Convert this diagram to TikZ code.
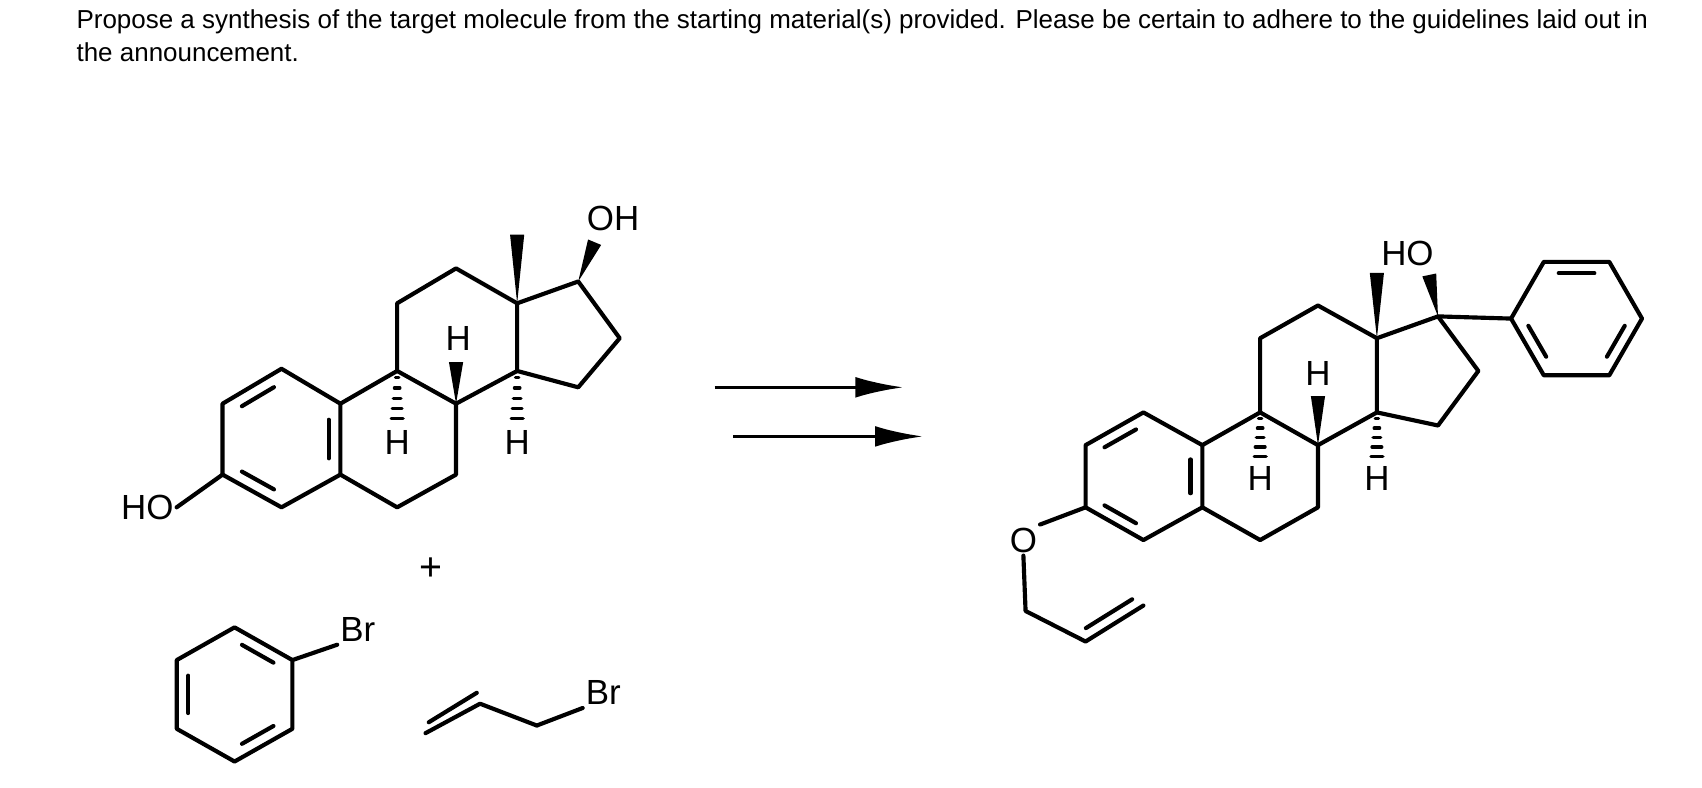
\documentclass[tikz,border=0pt]{standalone}
\usepackage{fontspec}
\setmainfont{Liberation Sans}
\usetikzlibrary{calc,arrows.meta}
\newcommand{\dbl}[3]{\draw ($(#1)!0.16!(#2)!0.2!(#3)$) -- ($(#2)!0.16!(#1)!0.2!(#3)$);}
\newcommand{\wdg}[2]{\fill (#1) -- ($(#2)!6.5pt!90:(#1)$) -- ($(#2)!6.5pt!-90:(#1)$) -- cycle;}
\newcommand{\hashb}[2]{\foreach \t/\w in {0.12/1.5,0.3/2.5,0.48/3.5,0.66/4.5,0.84/5.5}{\draw[line width=3pt] ($($(#1)!\t!(#2)$)!\w pt!90:(#2)$) -- ($($(#1)!\t!(#2)$)!\w pt!-90:(#2)$);}}
\tikzset{bd/.style={line width=3.8pt,line cap=round,line join=round},
 atom/.style={font=\fontsize{32}{32}\selectfont,inner sep=1pt},
 txt/.style={font=\fontsize{23.8}{28}\selectfont,anchor=west,inner sep=0pt}}
\begin{document}
\begin{tikzpicture}[x=1pt,y=-1pt]
\useasboundingbox[fill=white] (0,0) rectangle (1560,722);
\node[txt] (t1) at (70,20) {Propose a synthesis of the target molecule from the starting material(s) provided. Please be certain to adhere to the guidelines laid out in};
\node[txt] (t2) at (70,48) {the announcement.};
% starting steroid
\begin{scope}[bd]
\coordinate (A1) at (258,338); \coordinate (A2) at (204,370); \coordinate (A3) at (204,435);
\coordinate (A4) at (258,465); \coordinate (A5) at (312,435); \coordinate (A10) at (312,370);
\coordinate (Ac) at (258,402);
\coordinate (B9) at (364,340); \coordinate (B11) at (364,278); \coordinate (B12) at (418,246);
\coordinate (B13) at (474,278); \coordinate (B8) at (418,370); \coordinate (B14) at (474,340);
\coordinate (B7) at (418,435); \coordinate (B6) at (364,465);
\coordinate (B17) at (530,258); \coordinate (B16) at (568,310); \coordinate (B15) at (530,355);
\draw (A1)--(A2)--(A3)--(A4)--(A5)--(A10)--cycle;
\dbl{A1}{A2}{Ac} \dbl{A3}{A4}{Ac} \dbl{A5}{A10}{Ac}
\draw (A10)--(B9)--(B8)--(B7)--(B6)--(A5);
\draw (B9)--(B11)--(B12)--(B13)--(B14)--(B8);
\draw (B13)--(B17)--(B16)--(B15)--(B14);
\coordinate (Me1) at (474,215); \wdg{B13}{Me1}
\coordinate (OHw) at (545,222); \wdg{B17}{OHw}
\node[atom] (OH1) at (562,200) {OH};
\coordinate (H8e) at (418,332); \wdg{B8}{H8e}
\node[atom] (H8) at (420,310) {H};
\coordinate (H9e) at (364,392); \hashb{B9}{H9e}
\node[atom] (H9) at (364,406) {H};
\coordinate (H14e) at (474,392); \hashb{B14}{H14e}
\node[atom] (H14) at (474,406) {H};
\node[atom] (HO1) at (135,465) {HO};
\draw (A3)--(HO1.east);
\end{scope}
\node[atom,font=\fontsize{36}{36}\selectfont] (plus) at (395,522) {+};
% bromobenzene
\begin{scope}[bd]
\coordinate (P1) at (215,575); \coordinate (P2) at (268,605); \coordinate (P3) at (268,668);
\coordinate (P4) at (215,698); \coordinate (P5) at (162,668); \coordinate (P6) at (162,605);
\coordinate (Pc) at (215,636);
\draw (P1)--(P2)--(P3)--(P4)--(P5)--(P6)--cycle;
\dbl{P5}{P6}{Pc} \dbl{P1}{P2}{Pc} \dbl{P3}{P4}{Pc}
\node[atom] (Br1) at (328,577) {Br};
\draw (P2)--(Br1.south west);
% allyl bromide
\coordinate (L1) at (390,672); \coordinate (L2) at (440,645); \coordinate (L3) at (492,665);
\draw (L1)--(L2)--(L3);
\draw ($(L1)+(3,-10)$)--($(L2)+(-3,-10)$);
\node[atom] (Br2) at (553,635) {Br};
\draw (L3)--(Br2.south west);
\end{scope}
% arrows
\coordinate (r1a) at (655,355); \coordinate (r1b) at (828,355);
\coordinate (r2a) at (672,400); \coordinate (r2b) at (846,400);
\draw[line width=3pt,-{Latex[length=44pt,width=19pt]}] (r1a)--(r1b);
\draw[line width=3pt,-{Latex[length=44pt,width=19pt]}] (r2a)--(r2b);
% product
\begin{scope}[bd]
\coordinate (Q1) at (1048,378); \coordinate (Q2) at (995,408); \coordinate (Q3) at (995,465);
\coordinate (Q4) at (1048,495); \coordinate (Q5) at (1102,465); \coordinate (Q10) at (1102,408);
\coordinate (Qc) at (1048,437);
\coordinate (R9) at (1155,378); \coordinate (R11) at (1155,310); \coordinate (R12) at (1208,280);
\coordinate (R13) at (1262,310); \coordinate (R8) at (1208,408); \coordinate (R14) at (1262,378);
\coordinate (R7) at (1208,465); \coordinate (R6) at (1155,495);
\coordinate (R17) at (1318,290); \coordinate (R16) at (1355,340); \coordinate (R15) at (1318,390);
\draw (Q1)--(Q2)--(Q3)--(Q4)--(Q5)--(Q10)--cycle;
\dbl{Q1}{Q2}{Qc} \dbl{Q3}{Q4}{Qc} \dbl{Q5}{Q10}{Qc}
\draw (Q10)--(R9)--(R8)--(R7)--(R6)--(Q5);
\draw (R9)--(R11)--(R12)--(R13)--(R14)--(R8);
\draw (R13)--(R17)--(R16)--(R15)--(R14);
\coordinate (Me2) at (1262,250); \wdg{R13}{Me2}
\coordinate (HOw) at (1310,252); \wdg{R17}{HOw}
\node[atom] (HO2) at (1290,232) {HO};
\coordinate (H8e2) at (1208,363); \wdg{R8}{H8e2}
\node[atom] (H8b) at (1208,342) {H};
\coordinate (H9e2) at (1155,426); \hashb{R9}{H9e2}
\node[atom] (H9b) at (1155,439) {H};
\coordinate (H14e2) at (1262,426); \hashb{R14}{H14e2}
\node[atom] (H14b) at (1262,439) {H};
\coordinate (F1) at (1385,292); \coordinate (F2) at (1415,240); \coordinate (F3) at (1475,240);
\coordinate (F4) at (1505,292); \coordinate (F5) at (1475,344); \coordinate (F6) at (1415,344);
\coordinate (Fc) at (1445,292);
\draw (R17)--(F1);
\draw (F1)--(F2)--(F3)--(F4)--(F5)--(F6)--cycle;
\dbl{F2}{F3}{Fc} \dbl{F4}{F5}{Fc} \dbl{F6}{F1}{Fc}
\node[atom] (O2) at (938,495) {O};
\draw (Q3)--(O2.north east);
\coordinate (S1) at (940,560); \coordinate (S2) at (995,588); \coordinate (S3) at (1048,555);
\draw (O2.south)--(S1)--(S2)--(S3);
\draw ($(S2)!0.1!(S3)+(-5,-9)$)--($(S3)!0.1!(S2)+(-5,-9)$);
\end{scope}
\end{tikzpicture}
\end{document}
